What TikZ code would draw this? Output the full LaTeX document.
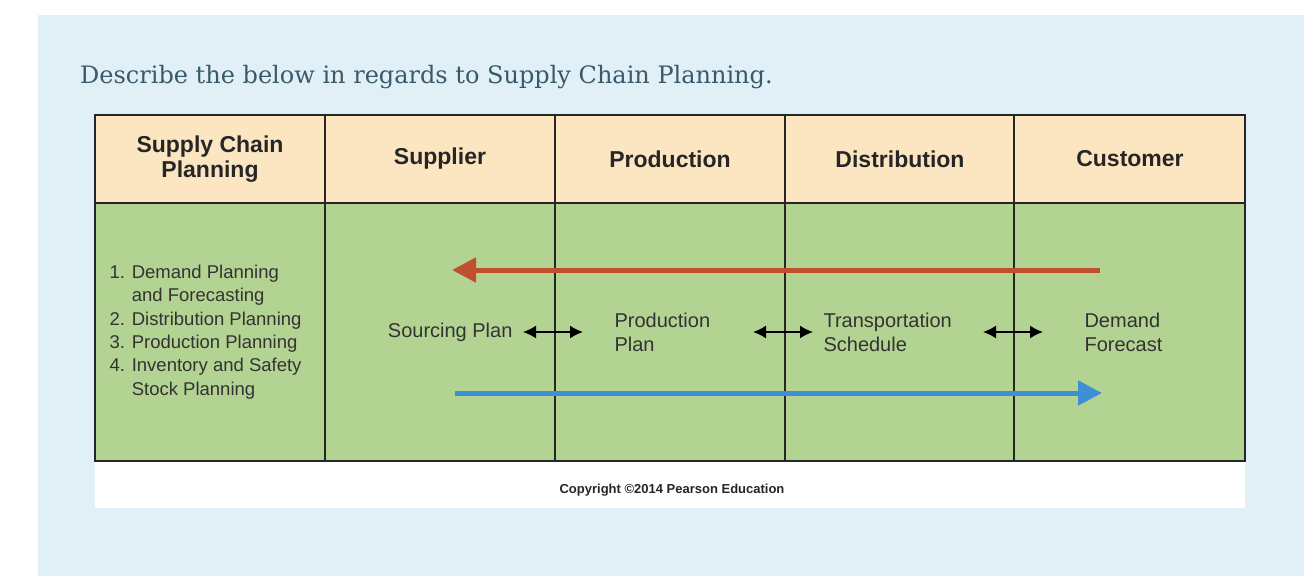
\documentclass[tikz,border=0pt]{standalone}
\usepackage{fontspec}
\setmainfont{Liberation Sans}
\newfontfamily\titlefont{DejaVu Serif}
\usetikzlibrary{arrows.meta}
\definecolor{bgblue}{HTML}{E1EFF7}
\definecolor{hdr}{HTML}{FCE6C1}
\definecolor{body}{HTML}{B3D393}
\definecolor{redar}{HTML}{C0502D}
\definecolor{bluear}{HTML}{3D8FD6}
\definecolor{titlecol}{HTML}{3A5A6A}
\begin{document}
\begin{tikzpicture}[x=1pt,y=-1pt,
  cell/.style={draw=black!85,line width=1.3pt},
  hdrtxt/.style={font=\fontsize{23}{25}\selectfont\bfseries,align=center,text=black!85},
  bodytxt/.style={font=\fontsize{20}{24}\selectfont,align=left,text=black!80},
  dbl/.style={{Latex[length=13pt,width=13pt]}-{Latex[length=13pt,width=13pt]},line width=1.6pt},
  bigar/.style={line width=5pt,-{Triangle[length=24pt,width=24pt]}}]
\useasboundingbox (0,0) rectangle (1304,576);
\fill[white] (0,0) rectangle (1304,576);
\fill[bgblue] (38,15) rectangle (1304,576);
\node[anchor=west,inner sep=0pt,font=\titlefont\fontsize{24}{28}\selectfont,text=titlecol] (title) at (80,77) {Describe the below in regards to Supply Chain Planning.};
\fill[white] (95,461) rectangle (1245,508);
\node[font=\fontsize{13}{15}\selectfont\bfseries,text=black!85] (copy) at (672,490) {Copyright \textcopyright2014 Pearson Education};
\fill[hdr] (95,115) rectangle (1245,203);
\fill[body] (95,203) rectangle (1245,461);
\foreach \a/\b in {95/325,325/555,555/785,785/1014,1014/1245}{
  \draw[cell] (\a,115) rectangle (\b,203);
  \draw[cell] (\a,203) rectangle (\b,461);
}
\node[hdrtxt] (h1) at (210,159) {Supply Chain\\Planning};
\node[hdrtxt] (h2) at (440,159) {Supplier};
\node[hdrtxt] (h3) at (670,159) {Production};
\node[hdrtxt] (h4) at (900,159) {Distribution};
\node[hdrtxt] (h5) at (1130,159) {Customer};
\node[anchor=west,font=\fontsize{18.5}{23.3}\selectfont,align=left,text=black!80] (list) at (106,332) {1. Demand Planning\\\hphantom{1. }and Forecasting\\2. Distribution Planning\\3. Production Planning\\4. Inventory and Safety\\\hphantom{4. }Stock Planning};
\node[bodytxt,anchor=east] (sp) at (516,332) {Sourcing Plan};
\node[bodytxt,anchor=west] (pp) at (611,332) {Production\\Plan};
\node[bodytxt,anchor=west] (ts) at (820,332) {Transportation\\Schedule};
\node[bodytxt,anchor=west] (df) at (1081,332) {Demand\\Forecast};
\coordinate (r1) at (1100,270); \coordinate (r2) at (452,270);
\coordinate (b1) at (455,393); \coordinate (b2) at (1102,393);
\draw[bigar,redar] (r1) -- (r2);
\draw[bigar,bluear] (b1) -- (b2);
\coordinate (d1s) at (523,332); \coordinate (d1e) at (583,332);
\draw[dbl] (d1s) -- (d1e);
\coordinate (d2s) at (753,332); \coordinate (d2e) at (813,332);
\draw[dbl] (d2s) -- (d2e);
\coordinate (d3s) at (983,332); \coordinate (d3e) at (1043,332);
\draw[dbl] (d3s) -- (d3e);
\end{tikzpicture}
\end{document}
